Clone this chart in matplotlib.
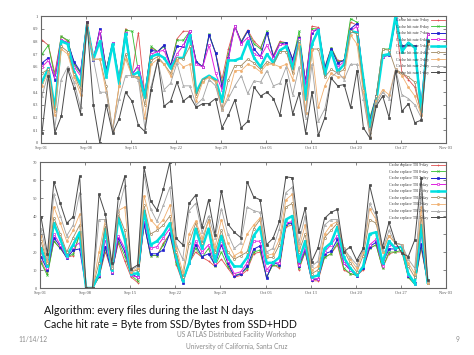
import matplotlib
matplotlib.use("Agg")
import matplotlib.pyplot as plt
import numpy as np

# ---------------- data ----------------
n_days = 61  # Sep 01 .. Oct 31
day_index = np.arange(n_days)
tick_days = [0, 7, 14, 21, 28, 35, 42, 49, 56, 63]
tick_labels = ["Sep 01", "Sep 08", "Sep 15", "Sep 22", "Sep 29",
               "Oct 06", "Oct 13", "Oct 20", "Oct 27", "Nov 03"]

windows = ["9-day", "8-day", "7-day", "6-day", "5-day", "4-day", "3-day", "2-day", "1-day"]

hit_9 = [0.81, 0.77, 0.55, 0.84, 0.80, 0.63, 0.55, 0.95, 0.66, 0.89, 0.58, 0.79, 0.52, 0.90, 0.54, 0.87,
         0.38, 0.75, 0.72, 0.77, 0.60, 0.82, 0.88, 0.88, 0.64, 0.60, 0.85, 0.71, 0.50, 0.74, 0.92, 0.80,
         0.89, 0.80, 0.75, 0.87, 0.69, 0.80, 0.79, 0.66, 0.84, 0.48, 0.92, 0.91, 0.60, 0.75, 0.65, 0.65,
         0.95, 0.93, 0.50, 0.18, 0.37, 0.68, 0.70, 0.97, 0.55, 0.50, 0.44, 0.24, 0.80]
hit_8 = [0.70, 0.77, 0.52, 0.84, 0.81, 0.62, 0.55, 0.95, 0.66, 0.88, 0.58, 0.79, 0.50, 0.89, 0.88, 0.56,
         0.38, 0.76, 0.72, 0.76, 0.61, 0.81, 0.81, 0.88, 0.64, 0.60, 0.86, 0.71, 0.46, 0.70, 0.92, 0.80,
         0.88, 0.78, 0.74, 0.88, 0.68, 0.79, 0.79, 0.65, 0.88, 0.47, 0.90, 0.90, 0.58, 0.75, 0.64, 0.65,
         0.98, 0.95, 0.50, 0.20, 0.37, 0.74, 0.74, 0.98, 0.72, 0.79, 0.76, 0.27, 0.86]
hit_7 = [0.63, 0.67, 0.50, 0.81, 0.79, 0.64, 0.56, 0.95, 0.65, 0.90, 0.57, 0.79, 0.48, 0.87, 0.54, 0.61,
         0.39, 0.73, 0.72, 0.77, 0.61, 0.76, 0.76, 0.88, 0.64, 0.60, 0.85, 0.71, 0.44, 0.67, 0.92, 0.79,
         0.88, 0.74, 0.68, 0.87, 0.68, 0.78, 0.79, 0.66, 0.83, 0.48, 0.87, 0.90, 0.59, 0.74, 0.63, 0.65,
         0.90, 0.94, 0.50, 0.17, 0.37, 0.68, 0.69, 0.97, 0.76, 0.78, 0.76, 0.31, 0.86]
hit_6 = [0.60, 0.65, 0.52, 0.81, 0.79, 0.60, 0.53, 0.95, 0.66, 0.88, 0.55, 0.79, 0.50, 0.87, 0.54, 0.61,
         0.38, 0.70, 0.72, 0.73, 0.60, 0.70, 0.77, 0.88, 0.62, 0.60, 0.77, 0.55, 0.42, 0.66, 0.92, 0.78,
         0.83, 0.70, 0.68, 0.77, 0.67, 0.78, 0.77, 0.63, 0.82, 0.46, 0.88, 0.90, 0.56, 0.70, 0.60, 0.64,
         0.88, 0.92, 0.50, 0.15, 0.35, 0.68, 0.70, 0.98, 0.74, 0.79, 0.75, 0.27, 0.86]
hit_5 = [0.48, 0.59, 0.27, 0.80, 0.78, 0.56, 0.46, 0.93, 0.66, 0.80, 0.52, 0.78, 0.47, 0.86, 0.53, 0.56,
         0.36, 0.68, 0.70, 0.67, 0.59, 0.67, 0.67, 0.85, 0.40, 0.50, 0.53, 0.50, 0.33, 0.65, 0.65, 0.67,
         0.80, 0.67, 0.60, 0.70, 0.63, 0.73, 0.76, 0.59, 0.80, 0.35, 0.78, 0.89, 0.54, 0.72, 0.56, 0.62,
         0.88, 0.87, 0.50, 0.13, 0.33, 0.69, 0.70, 1.00, 0.72, 0.79, 0.75, 0.25, 0.81]
hit_4 = [0.55, 0.58, 0.25, 0.76, 0.72, 0.54, 0.42, 0.93, 0.66, 0.66, 0.45, 0.10, 0.45, 0.70, 0.53, 0.52,
         0.30, 0.65, 0.68, 0.62, 0.55, 0.67, 0.66, 0.76, 0.37, 0.50, 0.52, 0.49, 0.27, 0.50, 0.61, 0.61,
         0.66, 0.63, 0.58, 0.64, 0.62, 0.72, 0.72, 0.55, 0.80, 0.24, 0.74, 0.74, 0.52, 0.58, 0.55, 0.58,
         0.88, 0.86, 0.42, 0.08, 0.37, 0.74, 0.73, 0.58, 0.55, 0.52, 0.48, 0.22, 0.80]
hit_3 = [0.45, 0.56, 0.22, 0.74, 0.70, 0.52, 0.38, 0.93, 0.66, 0.66, 0.40, 0.10, 0.45, 0.66, 0.53, 0.51,
         0.20, 0.62, 0.66, 0.62, 0.53, 0.65, 0.60, 0.62, 0.33, 0.48, 0.52, 0.48, 0.26, 0.38, 0.57, 0.57,
         0.62, 0.60, 0.56, 0.62, 0.62, 0.60, 0.62, 0.50, 0.78, 0.24, 0.73, 0.28, 0.45, 0.55, 0.52, 0.52,
         0.85, 0.78, 0.40, 0.05, 0.33, 0.42, 0.38, 0.58, 0.53, 0.44, 0.37, 0.22, 0.78]
hit_2 = [0.37, 0.55, 0.12, 0.50, 0.60, 0.48, 0.28, 0.93, 0.66, 0.40, 0.40, 0.10, 0.35, 0.53, 0.53, 0.50,
         0.12, 0.45, 0.65, 0.42, 0.47, 0.63, 0.45, 0.45, 0.30, 0.35, 0.50, 0.45, 0.26, 0.35, 0.45, 0.53,
         0.39, 0.49, 0.48, 0.57, 0.45, 0.47, 0.60, 0.38, 0.60, 0.20, 0.62, 0.17, 0.27, 0.52, 0.56, 0.50,
         0.62, 0.62, 0.35, 0.06, 0.31, 0.40, 0.35, 0.58, 0.38, 0.35, 0.30, 0.20, 0.75]
hit_1 = [0.08, 0.53, 0.08, 0.21, 0.58, 0.43, 0.23, 0.95, 0.30, 0.00, 0.30, 0.08, 0.19, 0.40, 0.33, 0.14,
         0.09, 0.42, 0.65, 0.29, 0.33, 0.48, 0.33, 0.37, 0.28, 0.31, 0.31, 0.35, 0.12, 0.22, 0.34, 0.12,
         0.17, 0.44, 0.37, 0.40, 0.35, 0.22, 0.50, 0.23, 0.39, 0.08, 0.40, 0.06, 0.20, 0.51, 0.45, 0.46,
         0.28, 0.57, 0.12, 0.04, 0.29, 0.37, 0.20, 0.57, 0.25, 0.31, 0.16, 0.18, 0.80]

tb_9 = [15, 8, 26, 22, 17, 18, 30, 0, 0, 6, 20, 9, 25, 15, 6, 3, 36, 18, 18, 25, 30, 13, 3, 14, 20, 17,
        15, 12, 16, 11, 6, 7, 10, 19, 20, 6, 13, 11, 34, 35, 10, 20, 4, 4, 17, 19, 24, 10, 8, 7, 10, 22,
        24, 11, 19, 20, 20, 6, 2, 22, 3]
tb_8 = [14, 7, 26, 22, 17, 19, 30, 0, 0, 6, 22, 9, 26, 18, 7, 4, 36, 18, 18, 24, 30, 14, 4, 14, 22, 17,
        22, 12, 20, 12, 7, 8, 11, 20, 21, 6, 13, 12, 35, 36, 11, 20, 5, 5, 17, 19, 25, 11, 8, 7, 11, 22,
        24, 11, 20, 20, 21, 6, 2, 23, 3]
tb_7 = [17.4, 10, 28, 23, 16.6, 21, 21.7, 0, 0, 6.8, 23, 8.3, 27.6, 20.3, 7.9, 5.9, 35.5, 19, 19, 21.2,
        30.4, 16, 3, 13.8, 24, 17.5, 19, 12.9, 24, 13.8, 6.4, 7.9, 12, 21.6, 23.4, 5.5, 14.2, 12.9, 35.5,
        36.3, 12.3, 21.2, 4.6, 5, 19, 20.3, 27, 13.8, 10, 6.8, 11, 23, 25.4, 13.7, 21.7, 21.7, 23, 6.8,
        2.8, 24.3, 2.8]
tb_6 = [20, 11, 30, 24, 17, 23, 25, 0, 0, 7, 27, 9, 29, 22, 7, 6, 38, 22, 23, 28, 33, 16, 4, 14, 26, 20,
        24, 14, 25, 15, 8, 9, 14, 26, 26, 10, 14, 14, 36, 37, 13, 22, 5, 5, 20, 24, 29, 14, 10, 7, 12, 24,
        27, 12, 24, 23, 23, 7, 2.5, 30, 3]
tb_5 = [22, 12, 36, 27, 18, 24, 31, 0, 0, 8, 33, 10, 39, 27, 8, 8, 43, 24, 26, 30, 36, 17, 4, 14, 33, 22,
        33, 15, 29, 17, 12, 12, 17, 29, 34, 14, 14, 17, 38, 40, 15, 26, 6, 7, 22, 25, 34, 17, 11, 7, 12,
        30, 31, 14, 26, 22, 23, 8, 2.5, 35, 3]
tb_4 = [26, 14, 39, 30, 20, 28, 35, 0, 0, 14, 35, 11, 41, 32, 9, 10, 46, 30, 32, 35, 40, 20, 6, 25, 36,
        25, 38, 20, 32, 20, 16, 18, 20, 33, 38, 17, 17, 24, 45, 47, 20, 30, 8, 10, 28, 32, 36, 21, 14, 9,
        18, 38, 36, 20, 29, 25, 24, 12, 6, 40, 3]
tb_3 = [29, 15, 45, 36, 26, 32, 41, 0, 0, 20, 38, 12, 43, 45, 9, 11, 51, 38, 34, 38, 46, 22, 9, 30, 37,
        28, 37, 23, 38, 25, 18, 20, 30, 35, 39, 18, 19, 27, 49, 52, 22, 35, 10, 12, 30, 35, 37, 22, 16, 11,
        20, 44, 38, 20, 29, 25, 24, 14, 8, 45, 3]
tb_2 = [33, 17, 52, 40, 29, 35, 53, 0, 0, 38, 38, 12, 43, 57, 10, 12, 63, 44, 37, 46, 56, 24, 16, 43, 47,
        31, 40, 28, 44, 30, 22, 25, 45, 43, 42, 20, 22, 33, 53, 56, 25, 40, 12, 15, 35, 38, 38, 22, 17, 13,
        21, 47, 40, 21, 32, 25, 24, 16, 11, 53, 4]
tb_1 = [39.6, 19, 59, 47, 36, 39.6, 62, 0, 0, 52, 41, 13.7, 50, 62, 10.6, 12.8, 67, 48.5, 43.3, 55, 70,
        27.6, 24, 47, 51.6, 33.7, 49, 29.5, 54, 35.5, 31, 28, 59, 50.6, 49, 24, 27.6, 37, 61.7, 61.3, 31,
        44.6, 14.7, 22.5, 38.7, 42, 43.7, 20, 23, 15.3, 22, 57, 42.4, 22.7, 36.5, 25.4, 19.3, 17.5, 26.7,
        61, 4.6]

hit_series = [hit_9, hit_8, hit_7, hit_6, hit_5, hit_4, hit_3, hit_2, hit_1]
tb_series = [tb_9, tb_8, tb_7, tb_6, tb_5, tb_4, tb_3, tb_2, tb_1]

# ---------------- styles ----------------
colors = ["#e05050", "#30c030", "#2020d0", "#e020e0", "#00e0e0",
          "#a08860", "#f0b070", "#a0a0a0", "#4a4a4a"]
markers = ["+", "x", "s", "s", "s", "o", "o", "^", "s"]
mfill = [True, True, True, False, True, False, True, False, True]
lws = [0.6, 0.6, 0.7, 0.7, 1.8, 0.6, 0.6, 0.6, 0.7]

W, H = 474, 355
fig = plt.figure(figsize=(W / 100, H / 100), dpi=100)
fig.patch.set_facecolor("white")

serif = ["Liberation Serif", "DejaVu Serif"]


def px_axes(l, t, r, b):
    return fig.add_axes([l / W, 1 - b / H, (r - l) / W, (b - t) / H])


def style_axes(ax, ymax, ystep, fmt):
    ax.set_xlim(0, 63)
    ax.set_ylim(0, ymax)
    ax.set_xticks(tick_days)
    ax.set_xticklabels(tick_labels, fontsize=3.2, family=serif)
    yt = np.arange(0, ymax + ystep / 2, ystep)
    ax.set_yticks(yt)
    ax.set_yticklabels([fmt(v) for v in yt], fontsize=3.2, family=serif)
    ax.tick_params(direction="in", length=2.5, width=0.5, pad=2,
                   top=True, right=True, colors="#555555")
    for s in ax.spines.values():
        s.set_linewidth(0.8)
        s.set_color("#666666")


def draw(ax, series, prefix, legend_anchor):
    for i, vals in enumerate(series):
        ax.plot(day_index + 0.15, vals, color=colors[i], lw=lws[i],
                marker=markers[i], ms=1.5, mew=0.5,
                mfc=colors[i] if mfill[i] else "white", mec=colors[i],
                label=f"{prefix} {windows[i]}")
    leg = ax.legend(loc="upper right", bbox_to_anchor=legend_anchor,
                    bbox_transform=fig.transFigure, frameon=False,
                    markerfirst=False, prop={"family": serif, "size": 3.0},
                    handlelength=3.4, handletextpad=0.5, labelspacing=0.62,
                    borderpad=0, borderaxespad=0)
    for t in leg.get_texts():
        t.set_color("#333333")


ax1 = px_axes(41, 16, 446, 143)
draw(ax1, hit_series, "Cache hit rate", (445 / W, 1 - 18 / H))
style_axes(ax1, 1.0, 0.1, lambda v: f"{v:g}" if v not in (0, 1) else str(int(round(v))))

ax2 = px_axes(40, 162, 446, 288)
draw(ax2, tb_series, "Cache replace TB", (445 / W, 1 - 163 / H))
style_axes(ax2, 70, 10, lambda v: str(int(round(v))))

# ---------------- slide text ----------------
body_font = ["Lato", "DejaVu Sans"]
fig.text(44 / W, 1 - 311 / H, "Algorithm: every files during the last N days",
         fontsize=7.8, family=body_font, va="center", ha="left", color="#111111")
fig.text(44 / W, 1 - 325 / H, "Cache hit rate = Byte from SSD/Bytes from SSD+HDD",
         fontsize=7.6, family=body_font, va="center", ha="left", color="#111111")
fig.text(18 / W, 1 - 340 / H, "11/14/12", fontsize=4.8, family=body_font,
         va="center", ha="left", color="#8c8c8c")
fig.text(237 / W, 1 - 335 / H, "US ATLAS Distributed Facility Workshop", fontsize=4.8,
         family=body_font, va="center", ha="center", color="#8c8c8c")
fig.text(237 / W, 1 - 346 / H, "University of California, Santa Cruz", fontsize=4.8,
         family=body_font, va="center", ha="center", color="#8c8c8c")
fig.text(458 / W, 1 - 340 / H, "9", fontsize=4.8, family=body_font,
         va="center", ha="center", color="#8c8c8c")

fig.savefig("out.png", dpi=100, facecolor="white")
